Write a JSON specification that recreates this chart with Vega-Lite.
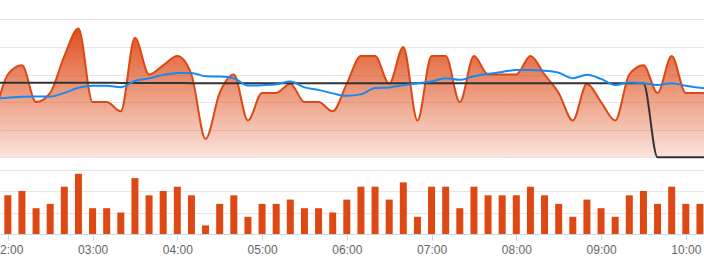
{
  "$schema": "https://vega.github.io/schema/vega-lite/v6.json",
  "width": 704,
  "height": 234,
  "padding": {"left": 0, "right": 0, "top": 0, "bottom": 27},
  "autosize": {"type": "none"},
  "background": "white",
  "config": {"view": {"stroke": null}},
  "data": {"values": [
    {"t": "2024-01-01T01:50", "v": 4, "blue": 6.4, "black": 8.1},
    {"t": "2024-01-01T02:00", "v": 9, "blue": 6.47, "black": 8.1},
    {"t": "2024-01-01T02:10", "v": 10, "blue": 6.57, "black": 8.1},
    {"t": "2024-01-01T02:20", "v": 6, "blue": 6.6, "black": 8.1},
    {"t": "2024-01-01T02:30", "v": 7, "blue": 6.6, "black": 8.1},
    {"t": "2024-01-01T02:40", "v": 11, "blue": 7.0, "black": 8.1},
    {"t": "2024-01-01T02:50", "v": 14, "blue": 7.55, "black": 8.1},
    {"t": "2024-01-01T03:00", "v": 6, "blue": 7.77, "black": 8.1},
    {"t": "2024-01-01T03:10", "v": 6, "blue": 7.77, "black": 8.1},
    {"t": "2024-01-01T03:20", "v": 5, "blue": 7.62, "black": 8.08},
    {"t": "2024-01-01T03:30", "v": 13, "blue": 8.3, "black": 8.08},
    {"t": "2024-01-01T03:40", "v": 9, "blue": 8.58, "black": 8.08},
    {"t": "2024-01-01T03:50", "v": 10, "blue": 8.96, "black": 8.08},
    {"t": "2024-01-01T04:00", "v": 11, "blue": 9.17, "black": 8.08},
    {"t": "2024-01-01T04:10", "v": 9, "blue": 9.17, "black": 8.06},
    {"t": "2024-01-01T04:20", "v": 2, "blue": 8.8, "black": 8.06},
    {"t": "2024-01-01T04:30", "v": 7, "blue": 8.77, "black": 8.06},
    {"t": "2024-01-01T04:40", "v": 9, "blue": 8.6, "black": 8.06},
    {"t": "2024-01-01T04:50", "v": 4, "blue": 7.8, "black": 8.06},
    {"t": "2024-01-01T05:00", "v": 7, "blue": 7.84, "black": 8.06},
    {"t": "2024-01-01T05:10", "v": 7, "blue": 7.93, "black": 8.06},
    {"t": "2024-01-01T05:20", "v": 8, "blue": 8.23, "black": 8.06},
    {"t": "2024-01-01T05:30", "v": 6, "blue": 7.6, "black": 8.04},
    {"t": "2024-01-01T05:40", "v": 6, "blue": 7.33, "black": 8.04},
    {"t": "2024-01-01T05:50", "v": 5, "blue": 6.95, "black": 8.04},
    {"t": "2024-01-01T06:00", "v": 8, "blue": 6.68, "black": 8.04},
    {"t": "2024-01-01T06:10", "v": 11, "blue": 6.84, "black": 8.04},
    {"t": "2024-01-01T06:20", "v": 11, "blue": 7.52, "black": 8.04},
    {"t": "2024-01-01T06:30", "v": 8, "blue": 7.6, "black": 8.04},
    {"t": "2024-01-01T06:40", "v": 12, "blue": 7.82, "black": 8.04},
    {"t": "2024-01-01T06:50", "v": 4, "blue": 8.04, "black": 8.04},
    {"t": "2024-01-01T07:00", "v": 11, "blue": 8.25, "black": 8.04},
    {"t": "2024-01-01T07:10", "v": 11, "blue": 8.6, "black": 8.04},
    {"t": "2024-01-01T07:20", "v": 6, "blue": 8.42, "black": 8.04},
    {"t": "2024-01-01T07:30", "v": 11, "blue": 8.8, "black": 8.04},
    {"t": "2024-01-01T07:40", "v": 9, "blue": 9.07, "black": 8.04},
    {"t": "2024-01-01T07:50", "v": 9, "blue": 9.28, "black": 8.04},
    {"t": "2024-01-01T08:00", "v": 9, "blue": 9.5, "black": 8.04},
    {"t": "2024-01-01T08:10", "v": 11, "blue": 9.5, "black": 8.04},
    {"t": "2024-01-01T08:20", "v": 9, "blue": 9.4, "black": 8.04},
    {"t": "2024-01-01T08:30", "v": 7, "blue": 9.2, "black": 8.04},
    {"t": "2024-01-01T08:40", "v": 4, "blue": 8.6, "black": 8.04},
    {"t": "2024-01-01T08:50", "v": 8, "blue": 8.96, "black": 8.04},
    {"t": "2024-01-01T09:00", "v": 6, "blue": 8.52, "black": 8.04},
    {"t": "2024-01-01T09:10", "v": 4, "blue": 7.87, "black": 8.04},
    {"t": "2024-01-01T09:20", "v": 9, "blue": 8.12, "black": 8.04},
    {"t": "2024-01-01T09:30", "v": 10, "blue": 8.06, "black": 8.04},
    {"t": "2024-01-01T09:40", "v": 7, "blue": 7.87, "black": 0},
    {"t": "2024-01-01T09:50", "v": 11, "blue": 8.06, "black": 0},
    {"t": "2024-01-01T10:00", "v": 7, "blue": 7.77, "black": 0},
    {"t": "2024-01-01T10:10", "v": 7, "blue": 7.55, "black": 0},
    {"t": "2024-01-01T10:20", "v": 7, "blue": 7.44, "black": 0}
  ]},
  "encoding": {
    "x": {
      "field": "t",
      "type": "temporal",
      "scale": {"nice": false, "padding": 0, "domain": [
        {"year": 2024, "month": 1, "date": 1, "hours": 1, "minutes": 54, "seconds": 28},
        {"year": 2024, "month": 1, "date": 1, "hours": 10, "minutes": 12, "seconds": 53}
      ]},
      "axis": {
        "title": null,
        "grid": false,
        "format": "%H:%M",
        "values": [
          {"year": 2024, "month": 1, "date": 1, "hours": 2},
          {"year": 2024, "month": 1, "date": 1, "hours": 3},
          {"year": 2024, "month": 1, "date": 1, "hours": 4},
          {"year": 2024, "month": 1, "date": 1, "hours": 5},
          {"year": 2024, "month": 1, "date": 1, "hours": 6},
          {"year": 2024, "month": 1, "date": 1, "hours": 7},
          {"year": 2024, "month": 1, "date": 1, "hours": 8},
          {"year": 2024, "month": 1, "date": 1, "hours": 9},
          {"year": 2024, "month": 1, "date": 1, "hours": 10}
        ],
        "domainColor": "#ccd6eb",
        "tickColor": "#ccd6eb",
        "tickSize": 6,
        "labelColor": "#666666",
        "labelFont": "Liberation Sans",
        "labelFontSize": 12,
        "labelPadding": 4,
        "labelFlush": false,
        "labelOverlap": false
      }
    }
  },
  "layer": [
    {
      "layer": [
        {
          "mark": {
            "type": "area",
            "interpolate": "monotone",
            "clip": true,
            "fill": {
              "gradient": "linear",
              "x1": 0, "y1": 0, "x2": 0, "y2": 1,
              "stops": [
                {"offset": 0, "color": "rgba(221,72,20,0.95)"},
                {"offset": 1, "color": "rgba(221,72,20,0.15)"}
              ]
            }
          },
          "encoding": {
            "y": {"field": "v", "type": "quantitative",
              "scale": {"domain": [0, 15], "range": [157.3, 19.3], "nice": false},
              "axis": {"grid": true, "labels": false, "ticks": false, "domain": false, "title": null, "values": [0, 3, 6, 9, 12, 15], "gridColor": "#e6e6e6"}}
          }
        },
        {
          "mark": {"type": "line", "interpolate": "monotone", "clip": true, "color": "#dd4814", "strokeWidth": 2},
          "encoding": {
            "y": {"field": "v", "type": "quantitative",
              "scale": {"domain": [0, 15], "range": [157.3, 19.3], "nice": false},
              "axis": {"grid": true, "labels": false, "ticks": false, "domain": false, "title": null, "values": [0, 3, 6, 9, 12, 15], "gridColor": "#e6e6e6"}}
          }
        },
        {
          "mark": {"type": "line", "interpolate": "monotone", "clip": true, "color": "#333333", "strokeWidth": 2},
          "encoding": {
            "y": {"field": "black", "type": "quantitative",
              "scale": {"domain": [0, 15], "range": [157.3, 19.3], "nice": false},
              "axis": {"grid": true, "labels": false, "ticks": false, "domain": false, "title": null, "values": [0, 3, 6, 9, 12, 15], "gridColor": "#e6e6e6"}}
          }
        },
        {
          "mark": {"type": "line", "interpolate": "monotone", "clip": true, "color": "#168af0", "strokeWidth": 2},
          "encoding": {
            "y": {"field": "blue", "type": "quantitative",
              "scale": {"domain": [0, 15], "range": [157.3, 19.3], "nice": false},
              "axis": {"grid": true, "labels": false, "ticks": false, "domain": false, "title": null, "values": [0, 3, 6, 9, 12, 15], "gridColor": "#e6e6e6"}}
          }
        }
      ]
    },
    {
      "mark": {"type": "bar", "width": 7, "color": "#dd4814", "clip": true},
      "encoding": {
        "y": {"field": "v", "type": "quantitative",
          "scale": {"domain": [0, 15], "range": [234, 169.5], "nice": false},
          "axis": {"orient": "right", "grid": true, "labels": false, "ticks": false, "domain": false, "title": null, "values": [5, 10, 15], "gridColor": "#e6e6e6"}}
      }
    }
  ],
  "resolve": {"scale": {"y": "independent"}, "axis": {"y": "independent"}}
}
